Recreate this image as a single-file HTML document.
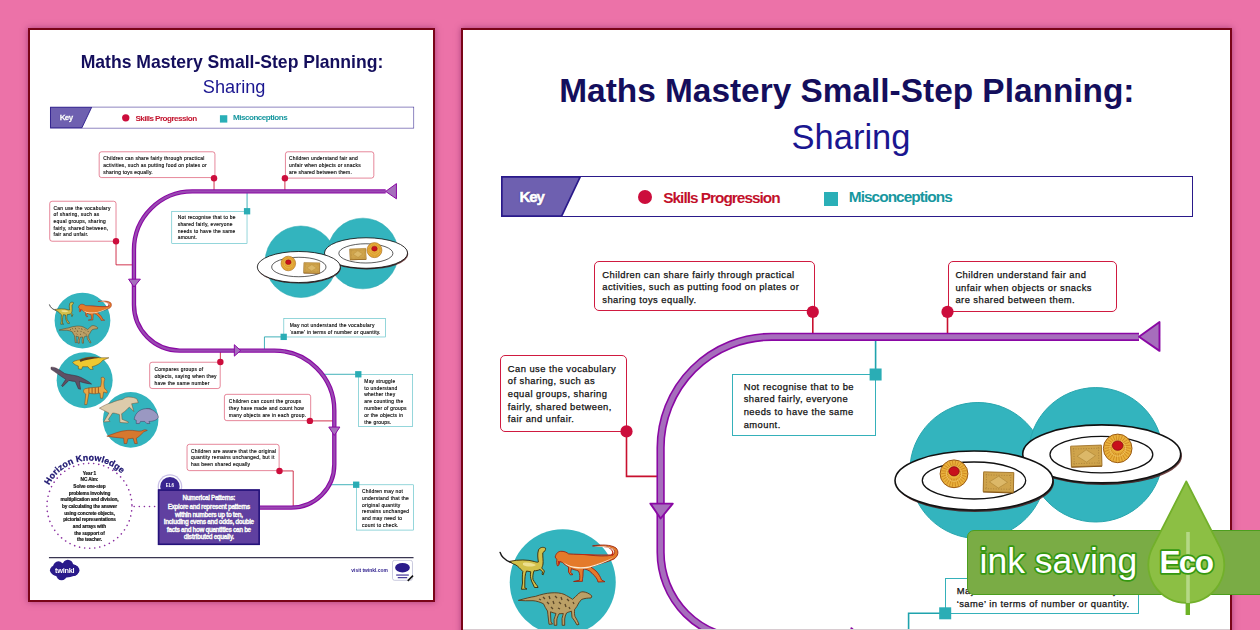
<!DOCTYPE html>
<html><head><meta charset="utf-8"><title>Maths Mastery Small-Step Planning: Sharing</title>
<style>
html,body{margin:0;padding:0;}
body{width:1260px;height:630px;position:relative;overflow:hidden;background:#ec72a8;font-family:"Liberation Sans", sans-serif;}
.t{position:absolute;white-space:nowrap;}
.b{position:absolute;box-sizing:border-box;}
.page{position:absolute;background:#fff;outline:2px solid #7a0418;box-shadow:0 0 6px 2px rgba(95,15,75,0.5);}
.doc{position:absolute;left:0;top:0;width:766px;height:1083px;transform-origin:0 0;}
</style></head>
<body>
<div class="page" style="left:30px;top:30px;width:403px;height:570px;overflow:hidden">
 <div class="doc" style="transform:scale(0.52611)">
<svg class="b" style="left:0;top:0" width="766" height="1083" viewBox="0 0 766 1083"><circle cx="514.9" cy="440.5" r="68" fill="#33b4be" stroke="#28a6ae" stroke-width="1"/><circle cx="632.7" cy="424.8" r="67.2" fill="#33b4be" stroke="#28a6ae" stroke-width="1"/><ellipse cx="640" cy="426" rx="79" ry="29" fill="#4a1010" opacity="0.8"/><ellipse cx="638.7" cy="423.9" rx="79" ry="29" fill="#fff" stroke="#111" stroke-width="1.6"/><ellipse cx="638.4" cy="424.6" rx="51.4" ry="18.3" fill="#fff" stroke="#111" stroke-width="1.3"/><g transform="rotate(-2 623.35 425.95)"><rect x="608" y="416.6" width="30.700000000000045" height="20.69999999999999" fill="#7a4a10"/><rect x="608" y="415.6" width="30.700000000000045" height="20.69999999999999" fill="#cfa44c" stroke="#9a6a20" stroke-width="0.8"/><path d="M614.14 425.95 L623.35 419.74 L632.56 425.95 L623.35 432.16 Z" fill="#dcb868" stroke="#b08838" stroke-width="0.7"/><path d="M610 418.6 h26.700000000000045 M610 433.3 h26.700000000000045 M611 417.6 v16.69999999999999 M635.7 417.6 v16.69999999999999" stroke="#a47a34" stroke-width="0.7" stroke-dasharray="1.2 1.4"/></g><circle cx="654.7" cy="418.4" r="14.3" fill="#eab23c" stroke="#9a5a14" stroke-width="1"/><path d="M660.71 417.28 L668.00 418.40 M660.53 418.72 L667.61 421.58 M660.02 420.07 L666.48 424.58 M659.20 421.26 L664.65 427.22 M658.11 422.22 L662.25 429.34 M656.83 422.90 L659.42 430.83 M655.42 423.24 L656.30 431.60 M653.98 423.24 L653.10 431.60 M652.57 422.90 L649.98 430.83 M651.29 422.22 L647.15 429.34 M650.20 421.26 L644.75 427.22 M649.38 420.07 L642.92 424.58 M648.87 418.72 L641.79 421.58 M648.69 417.28 L641.40 418.40 M648.87 415.84 L641.79 415.22 M649.38 414.49 L642.92 412.22 M650.20 413.30 L644.75 409.58 M651.29 412.34 L647.15 407.46 M652.57 411.66 L649.98 405.97 M653.98 411.32 L653.10 405.20 M655.42 411.32 L656.30 405.20 M656.83 411.66 L659.42 405.97 M658.11 412.34 L662.25 407.46 M659.20 413.30 L664.65 409.58 M660.02 414.49 L666.48 412.22 M660.53 415.84 L667.61 415.22" stroke="#c8801c" stroke-width="0.9" opacity="0.85"/><circle cx="654.7" cy="418.4" r="7.87" fill="none" stroke="#f6d27a" stroke-width="1" opacity="0.6"/><ellipse cx="654.7" cy="415.59999999999997" rx="5.29" ry="4.72" fill="#c8101c" stroke="#8a0a10" stroke-width="0.8"/><ellipse cx="512" cy="452.5" rx="79" ry="29.5" fill="#4a1010" opacity="0.8"/><ellipse cx="511" cy="450.5" rx="79" ry="29.5" fill="#fff" stroke="#111" stroke-width="1.6"/><ellipse cx="511" cy="450.5" rx="51.7" ry="18.5" fill="#fff" stroke="#111" stroke-width="1.3"/><g transform="rotate(1.5 535.50 452.10)"><rect x="520.4" y="443.2" width="30.200000000000045" height="19.80000000000001" fill="#7a4a10"/><rect x="520.4" y="442.2" width="30.200000000000045" height="19.80000000000001" fill="#cfa44c" stroke="#9a6a20" stroke-width="0.8"/><path d="M526.44 452.10 L535.50 446.16 L544.56 452.10 L535.50 458.04 Z" fill="#dcb868" stroke="#b08838" stroke-width="0.7"/><path d="M522.4 445.2 h26.200000000000045 M522.4 459 h26.200000000000045 M523.4 444.2 v15.800000000000011 M547.6 444.2 v15.800000000000011" stroke="#a47a34" stroke-width="0.7" stroke-dasharray="1.2 1.4"/></g><circle cx="491" cy="443.8" r="13.9" fill="#eab23c" stroke="#9a5a14" stroke-width="1"/><path d="M496.84 442.80 L503.93 443.80 M496.67 444.20 L503.55 446.89 M496.17 445.51 L502.45 449.81 M495.37 446.67 L500.68 452.37 M494.32 447.60 L498.34 454.44 M493.07 448.26 L495.58 455.89 M491.70 448.60 L492.56 456.63 M490.30 448.60 L489.44 456.63 M488.93 448.26 L486.42 455.89 M487.68 447.60 L483.66 454.44 M486.63 446.67 L481.32 452.37 M485.83 445.51 L479.55 449.81 M485.33 444.20 L478.45 446.89 M485.16 442.80 L478.07 443.80 M485.33 441.40 L478.45 440.71 M485.83 440.09 L479.55 437.79 M486.63 438.93 L481.32 435.23 M487.68 438.00 L483.66 433.16 M488.93 437.34 L486.42 431.71 M490.30 437.00 L489.44 430.97 M491.70 437.00 L492.56 430.97 M493.07 437.34 L495.58 431.71 M494.32 438.00 L498.34 433.16 M495.37 438.93 L500.68 435.23 M496.17 440.09 L502.45 437.79 M496.67 441.40 L503.55 440.71" stroke="#c8801c" stroke-width="0.9" opacity="0.85"/><circle cx="491" cy="443.8" r="7.65" fill="none" stroke="#f6d27a" stroke-width="1" opacity="0.6"/><ellipse cx="491" cy="441.3" rx="5.14" ry="4.59" fill="#c8101c" stroke="#8a0a10" stroke-width="0.8"/><circle cx="99.75" cy="552.2" r="53" fill="#33b4be"/><circle cx="103.9" cy="665.6" r="53.2" fill="#33b4be"/><circle cx="191.3" cy="741" r="52.8" fill="#33b4be"/><g fill="none" stroke-width="1.6"><path d="M349.8 281.9 V306.8 M484.5 281.9 V306.8 M163.5 401.4 V446.4 H197.6 M361.8 631.2 V609.3 M532 743 H578.4 M474.2 838.1 H500.3 V907.8" stroke="#c8102e"/><path d="M412.6 344.5 V306.8 M482.2 583.3 H445.6 V609.3 M624 654.4 H555 M620 864.3 H568.8" stroke="#1fa3ad"/></g><circle cx="113" cy="904.4" r="80.75" fill="none" stroke="#8a2fa0" stroke-width="3" stroke-linecap="round" stroke-dasharray="0.1 9.6"/><path d="M198 905.7 H240" fill="none" stroke="#8a2fa0" stroke-width="3" stroke-linecap="round" stroke-dasharray="0.1 9.6"/><path d="M676 306.8 H308.6 A111 111 0 0 0 197.6 417.8 V522.3 A87 87 0 0 0 284.6 609.3 H464.4 A114 114 0 0 1 578.4 723.3 V825.8 A82 82 0 0 1 496.4 907.8 H437" fill="none" stroke="#8a08a4" stroke-width="8.3"/><path d="M676 306.8 H308.6 A111 111 0 0 0 197.6 417.8 V522.3 A87 87 0 0 0 284.6 609.3 H464.4 A114 114 0 0 1 578.4 723.3 V825.8 A82 82 0 0 1 496.4 907.8 H437" fill="none" stroke="#9a4ab2" stroke-width="4.2"/><polygon points="676,306.8 696.5,292 696.5,320.9" fill="#a66ebc" stroke="#8a08a4" stroke-width="1.9" stroke-linejoin="round"/><polygon points="187.4,473.6 209.8,473.6 197.6,488.5" fill="#a66ebc" stroke="#8a08a4" stroke-width="1.9" stroke-linejoin="round"/><polygon points="388.4,598.2 400.4,609.3 388.4,619.9" fill="#a66ebc" stroke="#8a08a4" stroke-width="1.9" stroke-linejoin="round"/><polygon points="567.9,754.7 589,754.7 578.4,770.6" fill="#a66ebc" stroke="#8a08a4" stroke-width="1.9" stroke-linejoin="round"/>
<g stroke-linejoin="round">
 <!-- circle 1 -->
 <path d="M37.1 522.4 C 38.5 527, 42 530, 47 532 L 50 533" fill="none" stroke="#1a1a1a" stroke-width="1.5" stroke-linecap="round"/>
 <path d="M47 531.3 C 55 529.5, 65 529.5, 71.3 531.5 C 73 532, 74.5 532.5, 75.4 532 C 74.8 528, 74.2 524, 75.5 520 C 76.5 517.5, 80 516.5, 82.6 518.2 C 83 520, 81 522, 79.8 522.8 C 79.6 527, 80.4 531, 80 534 C 79.7 536, 79 537.5, 78.7 538 L 81.4 541 L 80.2 544.8 L 79 544.2 L 79.6 541.8 L 77 539.5 C 75 540.5, 73 540.8, 71 540.8 C 70 543.5, 69.5 547, 70 549.5 C 71.5 552, 73 554.5, 74.5 556 L 75 557.5 L 71.5 557.5 L 68.5 551 C 67.5 548, 67 545, 67.8 541.8 L 63.5 541 C 62 544, 61.8 549, 61.8 553 L 61.8 557.8 L 64 559 L 58.5 559.3 L 59.5 553 C 59.3 549, 59.2 545, 59.8 541.5 C 57.5 539, 55 536, 52 534.5 C 50 534, 48.5 533, 47 531.3 Z" fill="#d2c04a" stroke="#3a2a08" stroke-width="0.9"/>
 <path d="M60 533 C 64 532, 70 533, 73 535 C 70 537, 64 537, 60 535 Z" fill="#f2e6a0" opacity="0.8"/>
 <path d="M92.2 527 C 93 523, 95.5 521.5, 97.7 521.3 C 101 521, 104 522.5, 105.7 523.9 C 112 524.3, 120 524.3, 126 525 C 134 526, 143 526.5, 150 525 C 152.5 523, 152 520, 149 518.5 C 144 516.5, 137 516, 129.5 515.9 C 138 514.5, 148 514.5, 153 518 C 156 521, 155.5 526, 151 529 C 145 532, 135 534, 128 537 L 133 541 C 135.5 543.5, 137.5 547, 138.5 550 L 142 551.7 L 135 552 L 134.5 550 C 133 547, 130 544, 126.5 541 C 124 539.5, 122 539, 120.5 539 C 120 541, 120 543, 120 545 C 120 547.5, 119 549.5, 119.5 551.3 L 110.6 551.5 L 116.5 550.2 C 117 547, 117 544, 115.5 541 C 113 540, 110 539.5, 108.5 538.5 L 107.6 542.5 L 110 544.5 L 107.5 545 L 105.5 542 L 105.5 537 C 103 535.5, 101 534, 99.5 532.5 L 97 531.5 C 96.5 534, 95.5 536, 94.6 536 C 93.5 534.5, 93.5 531, 94 529.4 C 93 528.8, 92.4 528, 92.2 527 Z" fill="#e47a2a" stroke="#9a2410" stroke-width="0.9"/>
 <path d="M100 532 C 106 537, 116 538, 126 536.5 C 135 534, 144 531, 151 527 C 144 532, 134 535.5, 125 538 C 115 539.5, 105 538, 100 532 Z M131 516 C 140 515.5, 148 516.5, 152 520 C 150 518.5, 142 517, 131 516 Z" fill="#fcebd2"/>
 <path d="M106 524 C 118 524.5, 135 526, 150 525.5 C 152 522, 149 518.5, 144 517 C 150 520, 150 523.5, 148 524.5 C 135 525, 118 523.5, 106 524 Z" fill="#c02a14"/>
 <path d="M95 531 L 97 531.5 L 95.5 535.5 Z" fill="#b01020"/>
 <path d="M55.3 570.4 C 62 568.5, 68 567, 72.4 566.4 C 78 564.5, 83 563.2, 88.1 562.9 C 93 562.5, 98 563, 101 564.3 C 104.5 566, 107.5 568, 109.6 569.3 C 111.5 567.5, 113.5 565.5, 115.3 564 C 116.5 562.5, 118 561.8, 120 561.8 C 123 562, 126.5 563.5, 128.9 566 L 128 568 C 125 568, 121.5 568.3, 118.5 569.5 C 116.5 571.5, 115 574, 113.9 576.4 C 113 577.8, 112.2 578.8, 111.7 579.3 C 111.3 582, 111.5 585, 112 586.5 C 113.5 589, 115 591.5, 116 594.3 L 114 595 C 112.5 592, 110.5 589.5, 109 587.3 C 108.7 585, 108.7 583, 108.5 581.2 C 106 582, 104 582.5, 103.5 583 C 102.5 585, 101.8 587, 101.7 589 L 101.7 595.3 L 99.2 595.3 L 99 588.5 C 99.5 586.5, 100 584.8, 100.3 583.5 L 96 583.8 C 95 586, 94 588, 93.8 590 L 93.8 595.3 L 91.2 595.3 L 91 589.5 C 91.5 587.5, 92.5 585.5, 93 583.5 C 91 583, 89 582.5, 87.5 581.8 C 87.5 585, 87.8 589, 88 592 L 89.5 594 L 86 594.3 L 85.3 588 C 85 585.5, 84.7 583, 84.5 581 C 83 579, 81.5 576, 80.5 573.8 C 77 572, 73.5 571, 70 570.7 C 65 570.8, 60 570.8, 55.3 570.4 Z" fill="#bba066" stroke="#5a3a18" stroke-width="0.9"/>
 <path d="M80 567 l2 2 M86 566 l1 3 M92 566 l2 2 M98 567 l1 3 M104 569 l2 2 M84 572 l2 2 M90 571 l1 3 M96 572 l2 2 M102 574 l1 3 M88 577 l2 2 M95 578 l2 1 M106 577 l1 2 M110 572 l1 2 M76 569 l2 1" stroke="#5a4628" stroke-width="1.3"/>
 <!-- circle 2 -->
 <path d="M81 632 C 84 628, 90 628, 94 627 C 104 622, 120 620, 132 623 L 150 623 L 138 628 C 134 634, 126 638, 118 640 L 120 645 L 114 645 L 110 640 L 100 640 L 98 645 L 92 644 L 92 639 C 88 637, 84 636, 81 632 Z" fill="#f0c830" stroke="#5a3a10" stroke-width="0.9"/>
 <path d="M94 627 C 104 622, 120 620, 132 623 C 120 625, 104 627, 96 631 Z" fill="#5a3a20"/>
 <path d="M40 641 C 48 640, 56 646, 66 653 C 76 656, 88 656, 96 660 C 104 664, 112 668, 117 673 C 108 672, 100 670, 94 668 L 96 683 L 92 682 L 86 668 C 82 668, 78 667, 74 666 L 62 678 L 60 676 L 68 664 C 58 658, 48 650, 40 645 Z" fill="#5e5064" stroke="#3a1a28" stroke-width="0.9"/>
 <path d="M135 661 C 138 659, 142 660, 142 664 C 140 668, 140 676, 142 682 C 146 684, 148 688, 146 690 L 140 688 L 138 700 L 134 700 L 133 690 C 126 692, 118 692, 112 690 L 108 712 L 104 712 L 106 692 C 102 690, 100 686, 104 682 C 114 679, 126 680, 134 678 C 136 672, 136 666, 135 661 Z" fill="#e8a844" stroke="#7a3a10" stroke-width="0.9"/>
 <path d="M112 680 v10 M118 680 v11 M124 680 v11 M130 679 v11" stroke="#8a3a10" stroke-width="1.4"/>
 <!-- circle 3 -->
 <path d="M131.9 718.8 C 140 714, 148 710, 155.2 708.3 C 163 705, 170 703, 176.3 701.9 C 180 699, 183 697.7, 186.8 697.7 C 194 697.5, 200 699, 203.7 701.9 L 205.8 708.3 L 193.2 710.4 L 197.4 725.2 L 188.9 716.7 C 187 718, 186 719.5, 184.7 720.9 C 181 724, 178 727, 174.2 729.4 L 175 740 L 187 745 L 186 747 L 171 746 L 170 731 C 165 729, 160 728, 157 728 L 149 740 L 152 744 L 140 745 L 150 728 C 146 726, 140 723, 131.9 718.8 Z" fill="#dccbab" stroke="#6a4a2a" stroke-width="0.9"/>
 <circle cx="225" cy="729" r="9.5" fill="#8a88b8" stroke="#3a3a5a" stroke-width="0.9"/>
 <path d="M198 740 C 200 726, 212 718, 226 720 C 236 722, 244 730, 244 736 C 242 742, 232 744, 226 744 L 228 748 L 222 748 L 218 744 L 210 744 L 208 748 L 202 748 L 202 742 Z" fill="#9a98c2" stroke="#3a3a5a" stroke-width="0.9"/>
 <path d="M146 772 C 158 768, 170 762, 186 761 C 198 760, 206 764, 212 762 C 216 760, 220 759, 223 761 L 216 764 C 210 770, 206 774, 202 776 L 204 786 L 199 786 L 196 776 L 186 777 L 184 786 L 179 786 L 178 776 C 168 775, 156 774, 146 772 Z" fill="#d6782e" stroke="#8a2a10" stroke-width="0.9"/>
</g>
<defs><path id="hkarc" d="M32.2 875 A86 86 0 0 1 180.8 851.4"/></defs>
<text font-family="Liberation Sans" font-weight="bold" font-size="16.8" fill="#1d1670" letter-spacing="0.3" stroke="#1d1670" stroke-width="0.5" text-anchor="middle"><textPath href="#hkarc" startOffset="50%">Horizon Knowledge</textPath></text>
</svg>
<div class="t" style="left:33.90px;width:700.00px;text-align:center;top:40.73px;font-size:33.4px;line-height:40px;color:#140e5c;font-weight:bold;">Maths Mastery Small-Step Planning:</div>
<div class="t" style="left:238.00px;width:300.00px;text-align:center;top:86.95px;font-size:34.5px;line-height:40px;color:#1a1690;font-weight:normal;">Sharing</div>
<div class="b" style="left:38.4px;top:146.4px;width:691.8px;height:40.9px;border:1.7px solid #2a1a8a;box-sizing:border-box;background:#fff"></div>
<svg class="b" style="left:38.4px;top:146.4px" width="90" height="41"><polygon points="0.85,0.85 79.2,0.85 60.6,40.05 0.85,40.05" fill="#6e60b0" stroke="#2a1a8a" stroke-width="1.7"/></svg>
<div class="t" style="left:56.50px;top:157.30px;font-size:15px;line-height:20px;color:#fff;font-weight:bold;letter-spacing:-1.1px;-webkit-text-stroke:0.6px #fff;text-shadow:0 0 1.5px #1c1070,0 0 1px #1c1070;">Key</div>
<div class="b" style="left:175.3px;top:160.1px;width:14.2px;height:14.2px;border-radius:50%;background:#cc0d3c"></div>
<div class="t" style="left:200.30px;top:157.66px;font-size:15.4px;line-height:20px;color:#c2102b;font-weight:bold;letter-spacing:-1.0px;">Skills Progression</div>
<div class="b" style="left:360.8px;top:161.6px;width:14.6px;height:14px;background:#2aafb7"></div>
<div class="t" style="left:385.80px;top:157.36px;font-size:15.4px;line-height:20px;color:#17979f;font-weight:bold;letter-spacing:-0.95px;">Misconceptions</div>
<div class="b" style="left:131.00px;top:230.70px;width:220.60px;height:50.80px;border:1.4px solid #d01a40;border-radius:5px;background:#fff;"></div>
<div class="t" style="left:139.30px;top:238.54px;font-size:9.4px;line-height:12.8px;color:#111;font-weight:normal;letter-spacing:0.45px;-webkit-text-stroke:0.3px #111;">Children can share fairly through practical<br>activities, such as putting food on plates or<br>sharing toys equally.</div>
<div class="b" style="left:484.50px;top:231.30px;width:169.20px;height:51.00px;border:1.4px solid #d01a40;border-radius:5px;background:#fff;"></div>
<div class="t" style="left:492.40px;top:238.84px;font-size:9.4px;line-height:12.8px;color:#111;font-weight:normal;letter-spacing:0.45px;-webkit-text-stroke:0.3px #111;">Children understand fair and<br>unfair when objects or snacks<br>are shared between them.</div>
<div class="b" style="left:37.20px;top:325.30px;width:126.50px;height:76.60px;border:1.4px solid #d01a40;border-radius:5px;background:#fff;"></div>
<div class="t" style="left:44.80px;top:332.74px;font-size:9.4px;line-height:12.6px;color:#111;font-weight:normal;letter-spacing:0.45px;-webkit-text-stroke:0.3px #111;">Can use the vocabulary<br>of sharing, such as<br>equal groups, sharing<br>fairly, shared between,<br>fair and unfair.</div>
<div class="b" style="left:269.40px;top:344.20px;width:143.20px;height:61.50px;border:1.4px solid #35b1ba;border-radius:0px;background:#fff;"></div>
<div class="t" style="left:280.70px;top:350.81px;font-size:9.4px;line-height:12.67px;color:#111;font-weight:normal;letter-spacing:0.45px;-webkit-text-stroke:0.3px #111;">Not recognise that to be<br>shared fairly, everyone<br>needs to have the same<br>amount.</div>
<div class="b" style="left:481.50px;top:548.00px;width:194.20px;height:35.70px;border:1.4px solid #35b1ba;border-radius:0px;background:#fff;"></div>
<div class="t" style="left:493.70px;top:553.64px;font-size:9.4px;line-height:13.4px;color:#111;font-weight:normal;letter-spacing:0.45px;-webkit-text-stroke:0.3px #111;">May not understand the vocabulary<br>&#8216;same&#8217; in terms of number or quantity.</div>
<div class="b" style="left:227.20px;top:631.20px;width:135.10px;height:50.80px;border:1.4px solid #d01a40;border-radius:5px;background:#fff;"></div>
<div class="t" style="left:236.50px;top:638.34px;font-size:9.4px;line-height:13.2px;color:#111;font-weight:normal;letter-spacing:0.45px;-webkit-text-stroke:0.3px #111;">Compares groups of<br>objects, saying when they<br>have the same number</div>
<div class="b" style="left:369.00px;top:691.90px;width:164.50px;height:51.60px;border:1.4px solid #d01a40;border-radius:5px;background:#fff;"></div>
<div class="t" style="left:378.00px;top:699.69px;font-size:9.4px;line-height:12.9px;color:#111;font-weight:normal;letter-spacing:0.45px;-webkit-text-stroke:0.3px #111;">Children can count the groups<br>they have made and count how<br>many objects are in each group.</div>
<div class="b" style="left:624.00px;top:654.40px;width:104.30px;height:100.10px;border:1.4px solid #35b1ba;border-radius:0px;background:#fff;"></div>
<div class="t" style="left:635.40px;top:661.74px;font-size:9.4px;line-height:12.8px;color:#111;font-weight:normal;letter-spacing:0.45px;-webkit-text-stroke:0.3px #111;">May struggle<br>to understand<br>whether they<br>are counting the<br>number of groups<br>or the objects in<br>the groups.</div>
<div class="b" style="left:297.70px;top:787.40px;width:176.50px;height:50.70px;border:1.4px solid #d01a40;border-radius:5px;background:#fff;"></div>
<div class="t" style="left:306.10px;top:794.69px;font-size:9.4px;line-height:12.7px;color:#111;font-weight:normal;letter-spacing:0.45px;-webkit-text-stroke:0.3px #111;">Children are aware that the original<br>quantity remains unchanged, but it<br>has been shared equally</div>
<div class="b" style="left:620.00px;top:864.30px;width:108.80px;height:87.00px;border:1.4px solid #35b1ba;border-radius:0px;background:#fff;"></div>
<div class="t" style="left:631.00px;top:871.14px;font-size:9.4px;line-height:12.8px;color:#111;font-weight:normal;letter-spacing:0.45px;-webkit-text-stroke:0.3px #111;">Children may not<br>understand that the<br>original quantity<br>remains unchanged<br>and may need to<br>count to check.</div>
<svg class="b" style="left:240px;top:841px" width="60" height="40"><circle cx="26" cy="27" r="23.5" fill="#c9c0e6"/><circle cx="26" cy="27" r="21" fill="#fff"/><circle cx="26" cy="27" r="18.5" fill="#3a2590"/></svg>
<div class="t" style="left:246.00px;width:40.00px;text-align:center;top:861.05px;font-size:8.5px;line-height:10px;color:#fff;font-weight:bold;">EL6</div>
<div class="b" style="left:242.60px;top:873.00px;width:194.40px;height:106.00px;border:3.4px solid #24127a;border-radius:0px;background:#6040a0;box-sizing:border-box;"></div>
<div class="t" style="left:242.80px;width:194.00px;text-align:center;top:883.29px;font-size:12px;line-height:14.1px;color:#fff;font-weight:bold;letter-spacing:-0.7px;-webkit-text-stroke:0.7px #fff;text-shadow:0 0 2px #200a60,0 0 1px #200a60,0 0 1px #200a60;">Numerical Patterns:</div>
<div class="t" style="left:242.80px;width:194.00px;text-align:center;top:900.29px;font-size:12px;line-height:14.1px;color:#fff;font-weight:bold;letter-spacing:-0.7px;-webkit-text-stroke:0.7px #fff;text-shadow:0 0 2px #200a60,0 0 1px #200a60,0 0 1px #200a60;">Explore and represent patterns<br>within numbers up to ten,<br>including evens and odds, double<br>facts and how quantities can be<br>distributed equally.</div>
<div class="t" style="left:38.00px;width:150.00px;text-align:center;top:836.58px;font-size:9px;line-height:12.6px;color:#111;font-weight:bold;letter-spacing:-0.2px;-webkit-text-stroke:0.3px #111;">Year 1<br>NC Aim:<br>Solve one-step<br>problems involving<br>multiplication and division,<br>by calculating the answer<br>using concrete objects,<br>pictorial representations<br>and arrays with<br>the support of<br>the teacher.</div>
<div class="b" style="left:36.1px;top:1001.8px;width:692.5px;height:2.2px;background:#141030"></div>
<svg class="b" style="left:34px;top:1005px" width="64" height="44"><g fill="#2a1a8a"><ellipse cx="32" cy="22" rx="28" ry="14"/><circle cx="20" cy="15" r="10"/><circle cx="38" cy="12" r="10"/><circle cx="48" cy="22" r="11"/><circle cx="26" cy="31" r="10"/></g><text x="32" y="27" text-anchor="middle" font-family="Liberation Sans" font-weight="bold" font-size="14" fill="#fff" letter-spacing="-0.5">twinkl</text></svg>
<div class="t" style="left:560.00px;width:120.00px;text-align:right;top:1020.78px;font-size:9.3px;line-height:14px;color:#2a1a8a;font-weight:bold;letter-spacing:0px;">visit twinkl.com</div>
<svg class="b" style="left:688px;top:1007px" width="42" height="42"><rect x="1" y="1" width="38" height="38" rx="4" fill="#fff" stroke="#9a9ac0" stroke-width="1"/><ellipse cx="20" cy="15" rx="14" ry="9" fill="#2a1a8a"/><rect x="8" y="28" width="24" height="2" fill="#2a1a8a"/><rect x="11" y="33" width="18" height="2" fill="#2a1a8a"/><path d="M30 40 L40 30" stroke="#111" stroke-width="3"/></svg>
<svg class="b" style="left:0;top:0" width="766" height="1083" viewBox="0 0 766 1083"><circle cx="349.8" cy="281.9" r="6.1" fill="#cc0d3c"/><circle cx="484.5" cy="281.9" r="6.1" fill="#cc0d3c"/><circle cx="163.5" cy="401.4" r="6.1" fill="#cc0d3c"/><circle cx="361.8" cy="631.2" r="6.1" fill="#cc0d3c"/><circle cx="532" cy="743" r="6.1" fill="#cc0d3c"/><circle cx="474.2" cy="838.1" r="6.1" fill="#cc0d3c"/><rect x="406.6" y="338.5" width="12" height="12" fill="#2aadb5"/><rect x="476.2" y="577.3" width="12" height="12" fill="#2aadb5"/><rect x="618" y="648.4" width="12" height="12" fill="#2aadb5"/><rect x="614" y="858.3" width="12" height="12" fill="#2aadb5"/></svg>

 </div>
</div>
<div class="page" style="left:463px;top:30px;width:767px;height:610px;overflow:hidden">
 <div class="doc">
<svg class="b" style="left:0;top:0" width="766" height="1083" viewBox="0 0 766 1083"><circle cx="514.9" cy="440.5" r="68" fill="#33b4be" stroke="#28a6ae" stroke-width="1"/><circle cx="632.7" cy="424.8" r="67.2" fill="#33b4be" stroke="#28a6ae" stroke-width="1"/><ellipse cx="640" cy="426" rx="79" ry="29" fill="#4a1010" opacity="0.8"/><ellipse cx="638.7" cy="423.9" rx="79" ry="29" fill="#fff" stroke="#111" stroke-width="1.6"/><ellipse cx="638.4" cy="424.6" rx="51.4" ry="18.3" fill="#fff" stroke="#111" stroke-width="1.3"/><g transform="rotate(-2 623.35 425.95)"><rect x="608" y="416.6" width="30.700000000000045" height="20.69999999999999" fill="#7a4a10"/><rect x="608" y="415.6" width="30.700000000000045" height="20.69999999999999" fill="#cfa44c" stroke="#9a6a20" stroke-width="0.8"/><path d="M614.14 425.95 L623.35 419.74 L632.56 425.95 L623.35 432.16 Z" fill="#dcb868" stroke="#b08838" stroke-width="0.7"/><path d="M610 418.6 h26.700000000000045 M610 433.3 h26.700000000000045 M611 417.6 v16.69999999999999 M635.7 417.6 v16.69999999999999" stroke="#a47a34" stroke-width="0.7" stroke-dasharray="1.2 1.4"/></g><circle cx="654.7" cy="418.4" r="14.3" fill="#eab23c" stroke="#9a5a14" stroke-width="1"/><path d="M660.71 417.28 L668.00 418.40 M660.53 418.72 L667.61 421.58 M660.02 420.07 L666.48 424.58 M659.20 421.26 L664.65 427.22 M658.11 422.22 L662.25 429.34 M656.83 422.90 L659.42 430.83 M655.42 423.24 L656.30 431.60 M653.98 423.24 L653.10 431.60 M652.57 422.90 L649.98 430.83 M651.29 422.22 L647.15 429.34 M650.20 421.26 L644.75 427.22 M649.38 420.07 L642.92 424.58 M648.87 418.72 L641.79 421.58 M648.69 417.28 L641.40 418.40 M648.87 415.84 L641.79 415.22 M649.38 414.49 L642.92 412.22 M650.20 413.30 L644.75 409.58 M651.29 412.34 L647.15 407.46 M652.57 411.66 L649.98 405.97 M653.98 411.32 L653.10 405.20 M655.42 411.32 L656.30 405.20 M656.83 411.66 L659.42 405.97 M658.11 412.34 L662.25 407.46 M659.20 413.30 L664.65 409.58 M660.02 414.49 L666.48 412.22 M660.53 415.84 L667.61 415.22" stroke="#c8801c" stroke-width="0.9" opacity="0.85"/><circle cx="654.7" cy="418.4" r="7.87" fill="none" stroke="#f6d27a" stroke-width="1" opacity="0.6"/><ellipse cx="654.7" cy="415.59999999999997" rx="5.29" ry="4.72" fill="#c8101c" stroke="#8a0a10" stroke-width="0.8"/><ellipse cx="512" cy="452.5" rx="79" ry="29.5" fill="#4a1010" opacity="0.8"/><ellipse cx="511" cy="450.5" rx="79" ry="29.5" fill="#fff" stroke="#111" stroke-width="1.6"/><ellipse cx="511" cy="450.5" rx="51.7" ry="18.5" fill="#fff" stroke="#111" stroke-width="1.3"/><g transform="rotate(1.5 535.50 452.10)"><rect x="520.4" y="443.2" width="30.200000000000045" height="19.80000000000001" fill="#7a4a10"/><rect x="520.4" y="442.2" width="30.200000000000045" height="19.80000000000001" fill="#cfa44c" stroke="#9a6a20" stroke-width="0.8"/><path d="M526.44 452.10 L535.50 446.16 L544.56 452.10 L535.50 458.04 Z" fill="#dcb868" stroke="#b08838" stroke-width="0.7"/><path d="M522.4 445.2 h26.200000000000045 M522.4 459 h26.200000000000045 M523.4 444.2 v15.800000000000011 M547.6 444.2 v15.800000000000011" stroke="#a47a34" stroke-width="0.7" stroke-dasharray="1.2 1.4"/></g><circle cx="491" cy="443.8" r="13.9" fill="#eab23c" stroke="#9a5a14" stroke-width="1"/><path d="M496.84 442.80 L503.93 443.80 M496.67 444.20 L503.55 446.89 M496.17 445.51 L502.45 449.81 M495.37 446.67 L500.68 452.37 M494.32 447.60 L498.34 454.44 M493.07 448.26 L495.58 455.89 M491.70 448.60 L492.56 456.63 M490.30 448.60 L489.44 456.63 M488.93 448.26 L486.42 455.89 M487.68 447.60 L483.66 454.44 M486.63 446.67 L481.32 452.37 M485.83 445.51 L479.55 449.81 M485.33 444.20 L478.45 446.89 M485.16 442.80 L478.07 443.80 M485.33 441.40 L478.45 440.71 M485.83 440.09 L479.55 437.79 M486.63 438.93 L481.32 435.23 M487.68 438.00 L483.66 433.16 M488.93 437.34 L486.42 431.71 M490.30 437.00 L489.44 430.97 M491.70 437.00 L492.56 430.97 M493.07 437.34 L495.58 431.71 M494.32 438.00 L498.34 433.16 M495.37 438.93 L500.68 435.23 M496.17 440.09 L502.45 437.79 M496.67 441.40 L503.55 440.71" stroke="#c8801c" stroke-width="0.9" opacity="0.85"/><circle cx="491" cy="443.8" r="7.65" fill="none" stroke="#f6d27a" stroke-width="1" opacity="0.6"/><ellipse cx="491" cy="441.3" rx="5.14" ry="4.59" fill="#c8101c" stroke="#8a0a10" stroke-width="0.8"/><circle cx="99.75" cy="552.2" r="53" fill="#33b4be"/><circle cx="103.9" cy="665.6" r="53.2" fill="#33b4be"/><circle cx="191.3" cy="741" r="52.8" fill="#33b4be"/><g fill="none" stroke-width="1.6"><path d="M349.8 281.9 V306.8 M484.5 281.9 V306.8 M163.5 401.4 V446.4 H197.6 M361.8 631.2 V609.3 M532 743 H578.4 M474.2 838.1 H500.3 V907.8" stroke="#c8102e"/><path d="M412.6 344.5 V306.8 M482.2 583.3 H445.6 V609.3 M624 654.4 H555 M620 864.3 H568.8" stroke="#1fa3ad"/></g><circle cx="113" cy="904.4" r="80.75" fill="none" stroke="#8a2fa0" stroke-width="3" stroke-linecap="round" stroke-dasharray="0.1 9.6"/><path d="M198 905.7 H240" fill="none" stroke="#8a2fa0" stroke-width="3" stroke-linecap="round" stroke-dasharray="0.1 9.6"/><path d="M676 306.8 H308.6 A111 111 0 0 0 197.6 417.8 V522.3 A87 87 0 0 0 284.6 609.3 H464.4 A114 114 0 0 1 578.4 723.3 V825.8 A82 82 0 0 1 496.4 907.8 H437" fill="none" stroke="#8a08a4" stroke-width="8.3"/><path d="M676 306.8 H308.6 A111 111 0 0 0 197.6 417.8 V522.3 A87 87 0 0 0 284.6 609.3 H464.4 A114 114 0 0 1 578.4 723.3 V825.8 A82 82 0 0 1 496.4 907.8 H437" fill="none" stroke="#a66ebc" stroke-width="5.1"/><polygon points="676,306.8 696.5,292 696.5,320.9" fill="#a66ebc" stroke="#8a08a4" stroke-width="1.9" stroke-linejoin="round"/><polygon points="187.4,473.6 209.8,473.6 197.6,488.5" fill="#a66ebc" stroke="#8a08a4" stroke-width="1.9" stroke-linejoin="round"/><polygon points="388.4,598.2 400.4,609.3 388.4,619.9" fill="#a66ebc" stroke="#8a08a4" stroke-width="1.9" stroke-linejoin="round"/><polygon points="567.9,754.7 589,754.7 578.4,770.6" fill="#a66ebc" stroke="#8a08a4" stroke-width="1.9" stroke-linejoin="round"/>
<g stroke-linejoin="round">
 <!-- circle 1 -->
 <path d="M37.1 522.4 C 38.5 527, 42 530, 47 532 L 50 533" fill="none" stroke="#1a1a1a" stroke-width="1.5" stroke-linecap="round"/>
 <path d="M47 531.3 C 55 529.5, 65 529.5, 71.3 531.5 C 73 532, 74.5 532.5, 75.4 532 C 74.8 528, 74.2 524, 75.5 520 C 76.5 517.5, 80 516.5, 82.6 518.2 C 83 520, 81 522, 79.8 522.8 C 79.6 527, 80.4 531, 80 534 C 79.7 536, 79 537.5, 78.7 538 L 81.4 541 L 80.2 544.8 L 79 544.2 L 79.6 541.8 L 77 539.5 C 75 540.5, 73 540.8, 71 540.8 C 70 543.5, 69.5 547, 70 549.5 C 71.5 552, 73 554.5, 74.5 556 L 75 557.5 L 71.5 557.5 L 68.5 551 C 67.5 548, 67 545, 67.8 541.8 L 63.5 541 C 62 544, 61.8 549, 61.8 553 L 61.8 557.8 L 64 559 L 58.5 559.3 L 59.5 553 C 59.3 549, 59.2 545, 59.8 541.5 C 57.5 539, 55 536, 52 534.5 C 50 534, 48.5 533, 47 531.3 Z" fill="#d2c04a" stroke="#3a2a08" stroke-width="0.9"/>
 <path d="M60 533 C 64 532, 70 533, 73 535 C 70 537, 64 537, 60 535 Z" fill="#f2e6a0" opacity="0.8"/>
 <path d="M92.2 527 C 93 523, 95.5 521.5, 97.7 521.3 C 101 521, 104 522.5, 105.7 523.9 C 112 524.3, 120 524.3, 126 525 C 134 526, 143 526.5, 150 525 C 152.5 523, 152 520, 149 518.5 C 144 516.5, 137 516, 129.5 515.9 C 138 514.5, 148 514.5, 153 518 C 156 521, 155.5 526, 151 529 C 145 532, 135 534, 128 537 L 133 541 C 135.5 543.5, 137.5 547, 138.5 550 L 142 551.7 L 135 552 L 134.5 550 C 133 547, 130 544, 126.5 541 C 124 539.5, 122 539, 120.5 539 C 120 541, 120 543, 120 545 C 120 547.5, 119 549.5, 119.5 551.3 L 110.6 551.5 L 116.5 550.2 C 117 547, 117 544, 115.5 541 C 113 540, 110 539.5, 108.5 538.5 L 107.6 542.5 L 110 544.5 L 107.5 545 L 105.5 542 L 105.5 537 C 103 535.5, 101 534, 99.5 532.5 L 97 531.5 C 96.5 534, 95.5 536, 94.6 536 C 93.5 534.5, 93.5 531, 94 529.4 C 93 528.8, 92.4 528, 92.2 527 Z" fill="#e47a2a" stroke="#9a2410" stroke-width="0.9"/>
 <path d="M100 532 C 106 537, 116 538, 126 536.5 C 135 534, 144 531, 151 527 C 144 532, 134 535.5, 125 538 C 115 539.5, 105 538, 100 532 Z M131 516 C 140 515.5, 148 516.5, 152 520 C 150 518.5, 142 517, 131 516 Z" fill="#fcebd2"/>
 <path d="M106 524 C 118 524.5, 135 526, 150 525.5 C 152 522, 149 518.5, 144 517 C 150 520, 150 523.5, 148 524.5 C 135 525, 118 523.5, 106 524 Z" fill="#c02a14"/>
 <path d="M95 531 L 97 531.5 L 95.5 535.5 Z" fill="#b01020"/>
 <path d="M55.3 570.4 C 62 568.5, 68 567, 72.4 566.4 C 78 564.5, 83 563.2, 88.1 562.9 C 93 562.5, 98 563, 101 564.3 C 104.5 566, 107.5 568, 109.6 569.3 C 111.5 567.5, 113.5 565.5, 115.3 564 C 116.5 562.5, 118 561.8, 120 561.8 C 123 562, 126.5 563.5, 128.9 566 L 128 568 C 125 568, 121.5 568.3, 118.5 569.5 C 116.5 571.5, 115 574, 113.9 576.4 C 113 577.8, 112.2 578.8, 111.7 579.3 C 111.3 582, 111.5 585, 112 586.5 C 113.5 589, 115 591.5, 116 594.3 L 114 595 C 112.5 592, 110.5 589.5, 109 587.3 C 108.7 585, 108.7 583, 108.5 581.2 C 106 582, 104 582.5, 103.5 583 C 102.5 585, 101.8 587, 101.7 589 L 101.7 595.3 L 99.2 595.3 L 99 588.5 C 99.5 586.5, 100 584.8, 100.3 583.5 L 96 583.8 C 95 586, 94 588, 93.8 590 L 93.8 595.3 L 91.2 595.3 L 91 589.5 C 91.5 587.5, 92.5 585.5, 93 583.5 C 91 583, 89 582.5, 87.5 581.8 C 87.5 585, 87.8 589, 88 592 L 89.5 594 L 86 594.3 L 85.3 588 C 85 585.5, 84.7 583, 84.5 581 C 83 579, 81.5 576, 80.5 573.8 C 77 572, 73.5 571, 70 570.7 C 65 570.8, 60 570.8, 55.3 570.4 Z" fill="#bba066" stroke="#5a3a18" stroke-width="0.9"/>
 <path d="M80 567 l2 2 M86 566 l1 3 M92 566 l2 2 M98 567 l1 3 M104 569 l2 2 M84 572 l2 2 M90 571 l1 3 M96 572 l2 2 M102 574 l1 3 M88 577 l2 2 M95 578 l2 1 M106 577 l1 2 M110 572 l1 2 M76 569 l2 1" stroke="#5a4628" stroke-width="1.3"/>
 <!-- circle 2 -->
 <path d="M81 632 C 84 628, 90 628, 94 627 C 104 622, 120 620, 132 623 L 150 623 L 138 628 C 134 634, 126 638, 118 640 L 120 645 L 114 645 L 110 640 L 100 640 L 98 645 L 92 644 L 92 639 C 88 637, 84 636, 81 632 Z" fill="#f0c830" stroke="#5a3a10" stroke-width="0.9"/>
 <path d="M94 627 C 104 622, 120 620, 132 623 C 120 625, 104 627, 96 631 Z" fill="#5a3a20"/>
 <path d="M40 641 C 48 640, 56 646, 66 653 C 76 656, 88 656, 96 660 C 104 664, 112 668, 117 673 C 108 672, 100 670, 94 668 L 96 683 L 92 682 L 86 668 C 82 668, 78 667, 74 666 L 62 678 L 60 676 L 68 664 C 58 658, 48 650, 40 645 Z" fill="#5e5064" stroke="#3a1a28" stroke-width="0.9"/>
 <path d="M135 661 C 138 659, 142 660, 142 664 C 140 668, 140 676, 142 682 C 146 684, 148 688, 146 690 L 140 688 L 138 700 L 134 700 L 133 690 C 126 692, 118 692, 112 690 L 108 712 L 104 712 L 106 692 C 102 690, 100 686, 104 682 C 114 679, 126 680, 134 678 C 136 672, 136 666, 135 661 Z" fill="#e8a844" stroke="#7a3a10" stroke-width="0.9"/>
 <path d="M112 680 v10 M118 680 v11 M124 680 v11 M130 679 v11" stroke="#8a3a10" stroke-width="1.4"/>
 <!-- circle 3 -->
 <path d="M131.9 718.8 C 140 714, 148 710, 155.2 708.3 C 163 705, 170 703, 176.3 701.9 C 180 699, 183 697.7, 186.8 697.7 C 194 697.5, 200 699, 203.7 701.9 L 205.8 708.3 L 193.2 710.4 L 197.4 725.2 L 188.9 716.7 C 187 718, 186 719.5, 184.7 720.9 C 181 724, 178 727, 174.2 729.4 L 175 740 L 187 745 L 186 747 L 171 746 L 170 731 C 165 729, 160 728, 157 728 L 149 740 L 152 744 L 140 745 L 150 728 C 146 726, 140 723, 131.9 718.8 Z" fill="#dccbab" stroke="#6a4a2a" stroke-width="0.9"/>
 <circle cx="225" cy="729" r="9.5" fill="#8a88b8" stroke="#3a3a5a" stroke-width="0.9"/>
 <path d="M198 740 C 200 726, 212 718, 226 720 C 236 722, 244 730, 244 736 C 242 742, 232 744, 226 744 L 228 748 L 222 748 L 218 744 L 210 744 L 208 748 L 202 748 L 202 742 Z" fill="#9a98c2" stroke="#3a3a5a" stroke-width="0.9"/>
 <path d="M146 772 C 158 768, 170 762, 186 761 C 198 760, 206 764, 212 762 C 216 760, 220 759, 223 761 L 216 764 C 210 770, 206 774, 202 776 L 204 786 L 199 786 L 196 776 L 186 777 L 184 786 L 179 786 L 178 776 C 168 775, 156 774, 146 772 Z" fill="#d6782e" stroke="#8a2a10" stroke-width="0.9"/>
</g>
<defs><path id="hkarc2" d="M32.2 875 A86 86 0 0 1 180.8 851.4"/></defs>
<text font-family="Liberation Sans" font-weight="bold" font-size="16.8" fill="#1d1670" letter-spacing="0.3" stroke="#1d1670" stroke-width="0.5" text-anchor="middle"><textPath href="#hkarc2" startOffset="50%">Horizon Knowledge</textPath></text>
</svg>
<div class="t" style="left:33.90px;width:700.00px;text-align:center;top:40.73px;font-size:33.4px;line-height:40px;color:#140e5c;font-weight:bold;">Maths Mastery Small-Step Planning:</div>
<div class="t" style="left:238.00px;width:300.00px;text-align:center;top:86.95px;font-size:34.5px;line-height:40px;color:#1a1690;font-weight:normal;">Sharing</div>
<div class="b" style="left:38.4px;top:146.4px;width:691.8px;height:40.9px;border:1.7px solid #2a1a8a;box-sizing:border-box;background:#fff"></div>
<svg class="b" style="left:38.4px;top:146.4px" width="90" height="41"><polygon points="0.85,0.85 79.2,0.85 60.6,40.05 0.85,40.05" fill="#6e60b0" stroke="#2a1a8a" stroke-width="1.7"/></svg>
<div class="t" style="left:56.50px;top:157.30px;font-size:15px;line-height:20px;color:#fff;font-weight:bold;letter-spacing:-1.1px;-webkit-text-stroke:0.6px #fff;text-shadow:0 0 1.5px #1c1070,0 0 1px #1c1070;">Key</div>
<div class="b" style="left:175.3px;top:160.1px;width:14.2px;height:14.2px;border-radius:50%;background:#cc0d3c"></div>
<div class="t" style="left:200.30px;top:157.66px;font-size:15.4px;line-height:20px;color:#c2102b;font-weight:bold;letter-spacing:-1.0px;">Skills Progression</div>
<div class="b" style="left:360.8px;top:161.6px;width:14.6px;height:14px;background:#2aafb7"></div>
<div class="t" style="left:385.80px;top:157.36px;font-size:15.4px;line-height:20px;color:#17979f;font-weight:bold;letter-spacing:-0.95px;">Misconceptions</div>
<div class="b" style="left:131.00px;top:230.70px;width:220.60px;height:50.80px;border:1.4px solid #d01a40;border-radius:5px;background:#fff;"></div>
<div class="t" style="left:139.30px;top:238.54px;font-size:9.4px;line-height:12.8px;color:#111;font-weight:normal;letter-spacing:0.45px;-webkit-text-stroke:0.25px #111;">Children can share fairly through practical<br>activities, such as putting food on plates or<br>sharing toys equally.</div>
<div class="b" style="left:484.50px;top:231.30px;width:169.20px;height:51.00px;border:1.4px solid #d01a40;border-radius:5px;background:#fff;"></div>
<div class="t" style="left:492.40px;top:238.84px;font-size:9.4px;line-height:12.8px;color:#111;font-weight:normal;letter-spacing:0.45px;-webkit-text-stroke:0.25px #111;">Children understand fair and<br>unfair when objects or snacks<br>are shared between them.</div>
<div class="b" style="left:37.20px;top:325.30px;width:126.50px;height:76.60px;border:1.4px solid #d01a40;border-radius:5px;background:#fff;"></div>
<div class="t" style="left:44.80px;top:332.74px;font-size:9.4px;line-height:12.6px;color:#111;font-weight:normal;letter-spacing:0.45px;-webkit-text-stroke:0.25px #111;">Can use the vocabulary<br>of sharing, such as<br>equal groups, sharing<br>fairly, shared between,<br>fair and unfair.</div>
<div class="b" style="left:269.40px;top:344.20px;width:143.20px;height:61.50px;border:1.4px solid #35b1ba;border-radius:0px;background:#fff;"></div>
<div class="t" style="left:280.70px;top:350.81px;font-size:9.4px;line-height:12.67px;color:#111;font-weight:normal;letter-spacing:0.45px;-webkit-text-stroke:0.25px #111;">Not recognise that to be<br>shared fairly, everyone<br>needs to have the same<br>amount.</div>
<div class="b" style="left:481.50px;top:548.00px;width:194.20px;height:35.70px;border:1.4px solid #35b1ba;border-radius:0px;background:#fff;"></div>
<div class="t" style="left:493.70px;top:553.64px;font-size:9.4px;line-height:13.4px;color:#111;font-weight:normal;letter-spacing:0.45px;-webkit-text-stroke:0.25px #111;">May not understand the vocabulary<br>&#8216;same&#8217; in terms of number or quantity.</div>
<div class="b" style="left:227.20px;top:631.20px;width:135.10px;height:50.80px;border:1.4px solid #d01a40;border-radius:5px;background:#fff;"></div>
<div class="t" style="left:236.50px;top:638.34px;font-size:9.4px;line-height:13.2px;color:#111;font-weight:normal;letter-spacing:0.45px;-webkit-text-stroke:0.25px #111;">Compares groups of<br>objects, saying when they<br>have the same number</div>
<div class="b" style="left:369.00px;top:691.90px;width:164.50px;height:51.60px;border:1.4px solid #d01a40;border-radius:5px;background:#fff;"></div>
<div class="t" style="left:378.00px;top:699.69px;font-size:9.4px;line-height:12.9px;color:#111;font-weight:normal;letter-spacing:0.45px;-webkit-text-stroke:0.25px #111;">Children can count the groups<br>they have made and count how<br>many objects are in each group.</div>
<div class="b" style="left:624.00px;top:654.40px;width:104.30px;height:100.10px;border:1.4px solid #35b1ba;border-radius:0px;background:#fff;"></div>
<div class="t" style="left:635.40px;top:661.74px;font-size:9.4px;line-height:12.8px;color:#111;font-weight:normal;letter-spacing:0.45px;-webkit-text-stroke:0.25px #111;">May struggle<br>to understand<br>whether they<br>are counting the<br>number of groups<br>or the objects in<br>the groups.</div>
<div class="b" style="left:297.70px;top:787.40px;width:176.50px;height:50.70px;border:1.4px solid #d01a40;border-radius:5px;background:#fff;"></div>
<div class="t" style="left:306.10px;top:794.69px;font-size:9.4px;line-height:12.7px;color:#111;font-weight:normal;letter-spacing:0.45px;-webkit-text-stroke:0.25px #111;">Children are aware that the original<br>quantity remains unchanged, but it<br>has been shared equally</div>
<div class="b" style="left:620.00px;top:864.30px;width:108.80px;height:87.00px;border:1.4px solid #35b1ba;border-radius:0px;background:#fff;"></div>
<div class="t" style="left:631.00px;top:871.14px;font-size:9.4px;line-height:12.8px;color:#111;font-weight:normal;letter-spacing:0.45px;-webkit-text-stroke:0.25px #111;">Children may not<br>understand that the<br>original quantity<br>remains unchanged<br>and may need to<br>count to check.</div>
<svg class="b" style="left:240px;top:841px" width="60" height="40"><circle cx="26" cy="27" r="23.5" fill="#c9c0e6"/><circle cx="26" cy="27" r="21" fill="#fff"/><circle cx="26" cy="27" r="18.5" fill="#3a2590"/></svg>
<div class="t" style="left:246.00px;width:40.00px;text-align:center;top:861.05px;font-size:8.5px;line-height:10px;color:#fff;font-weight:bold;">EL6</div>
<div class="b" style="left:242.60px;top:873.00px;width:194.40px;height:106.00px;border:3.4px solid #24127a;border-radius:0px;background:#6040a0;box-sizing:border-box;"></div>
<div class="t" style="left:242.80px;width:194.00px;text-align:center;top:883.29px;font-size:12px;line-height:14.1px;color:#fff;font-weight:bold;letter-spacing:-0.7px;-webkit-text-stroke:0.7px #fff;text-shadow:0 0 2px #200a60,0 0 1px #200a60,0 0 1px #200a60;">Numerical Patterns:</div>
<div class="t" style="left:242.80px;width:194.00px;text-align:center;top:900.29px;font-size:12px;line-height:14.1px;color:#fff;font-weight:bold;letter-spacing:-0.7px;-webkit-text-stroke:0.7px #fff;text-shadow:0 0 2px #200a60,0 0 1px #200a60,0 0 1px #200a60;">Explore and represent patterns<br>within numbers up to ten,<br>including evens and odds, double<br>facts and how quantities can be<br>distributed equally.</div>
<div class="t" style="left:38.00px;width:150.00px;text-align:center;top:836.58px;font-size:9px;line-height:12.6px;color:#111;font-weight:bold;letter-spacing:-0.2px;-webkit-text-stroke:0.3px #111;">Year 1<br>NC Aim:<br>Solve one-step<br>problems involving<br>multiplication and division,<br>by calculating the answer<br>using concrete objects,<br>pictorial representations<br>and arrays with<br>the support of<br>the teacher.</div>
<div class="b" style="left:36.1px;top:1001.8px;width:692.5px;height:2.2px;background:#141030"></div>
<svg class="b" style="left:34px;top:1005px" width="64" height="44"><g fill="#2a1a8a"><ellipse cx="32" cy="22" rx="28" ry="14"/><circle cx="20" cy="15" r="10"/><circle cx="38" cy="12" r="10"/><circle cx="48" cy="22" r="11"/><circle cx="26" cy="31" r="10"/></g><text x="32" y="27" text-anchor="middle" font-family="Liberation Sans" font-weight="bold" font-size="14" fill="#fff" letter-spacing="-0.5">twinkl</text></svg>
<div class="t" style="left:560.00px;width:120.00px;text-align:right;top:1020.78px;font-size:9.3px;line-height:14px;color:#2a1a8a;font-weight:bold;letter-spacing:0px;">visit twinkl.com</div>
<svg class="b" style="left:688px;top:1007px" width="42" height="42"><rect x="1" y="1" width="38" height="38" rx="4" fill="#fff" stroke="#9a9ac0" stroke-width="1"/><ellipse cx="20" cy="15" rx="14" ry="9" fill="#2a1a8a"/><rect x="8" y="28" width="24" height="2" fill="#2a1a8a"/><rect x="11" y="33" width="18" height="2" fill="#2a1a8a"/><path d="M30 40 L40 30" stroke="#111" stroke-width="3"/></svg>
<svg class="b" style="left:0;top:0" width="766" height="1083" viewBox="0 0 766 1083"><circle cx="349.8" cy="281.9" r="6.1" fill="#cc0d3c"/><circle cx="484.5" cy="281.9" r="6.1" fill="#cc0d3c"/><circle cx="163.5" cy="401.4" r="6.1" fill="#cc0d3c"/><circle cx="361.8" cy="631.2" r="6.1" fill="#cc0d3c"/><circle cx="532" cy="743" r="6.1" fill="#cc0d3c"/><circle cx="474.2" cy="838.1" r="6.1" fill="#cc0d3c"/><rect x="406.6" y="338.5" width="12" height="12" fill="#2aadb5"/><rect x="476.2" y="577.3" width="12" height="12" fill="#2aadb5"/><rect x="618" y="648.4" width="12" height="12" fill="#2aadb5"/><rect x="614" y="858.3" width="12" height="12" fill="#2aadb5"/></svg>

 </div>
</div>
<div class="b" style="left:463px;top:629px;width:767px;height:1px;background:#d8cbd0"></div>
<!-- eco banner -->
<div class="b" style="left:967.4px;top:530.4px;width:300px;height:64.6px;background:#7aac45;border:1.6px solid #4c9e1e;border-radius:7px 0 0 7px"></div>
<svg class="b" style="left:1140px;top:478px" width="100" height="140">
 <path d="M46.3 3.4 L 12.45 69.7 A 38 38 0 1 0 80.15 69.7 Z" fill="#8cbf44" stroke="#72b02a" stroke-width="1.8" stroke-linejoin="round"/>
 <rect x="46.2" y="54" width="3.6" height="71" fill="#bcdc92" opacity="0.85"/>
 <rect x="45.6" y="125" width="4.4" height="12" fill="#6db226"/>
</svg>
<svg class="b" style="left:960px;top:520px" width="300" height="80">
 <text x="19.5" y="52.8" font-family="Liberation Sans" font-size="35.5" fill="#fff" stroke="#359810" stroke-width="3.4" paint-order="stroke fill" stroke-linejoin="round">ink saving</text>
 <text x="199.5" y="52.8" font-family="Liberation Sans" font-weight="bold" font-size="31.5" letter-spacing="-1.7" fill="#fff" stroke="#359810" stroke-width="3.4" paint-order="stroke fill" stroke-linejoin="round">Eco</text>
</svg>
</body></html>
